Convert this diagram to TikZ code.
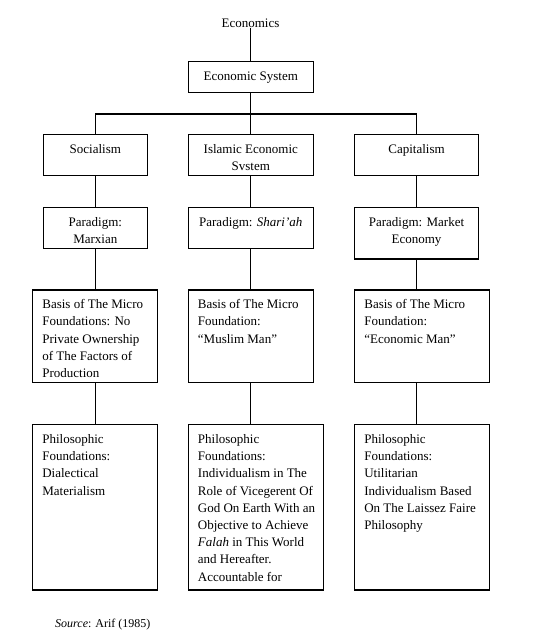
\documentclass[tikz,border=0pt]{standalone}
\usepackage{fontspec}
\setmainfont{Liberation Serif}
\begin{document}
\begin{tikzpicture}[x=1pt,y=-1pt,
  box/.style={draw, line width=1.1pt, inner sep=0pt, rectangle},
  conn/.style={line width=1.1pt},
  txt/.style={inner sep=0pt, font=\fontsize{13}{17.2}\selectfont},
  ctext/.style={txt, anchor=north, align=center},
  ltext/.style={txt, anchor=north west, align=left}]
\useasboundingbox (0,0) rectangle (539,641);
% top
\node[txt] (econ) at (250.5,23) {Economics};
\node[box, minimum width=125pt, minimum height=31pt] (sys) at (250.8,77.2) {};
\node[ctext] (syst) at ([yshift=-7pt]sys.north) {\strut Economic System};
% level 2
\node[box, minimum width=104pt, minimum height=41.4pt] (soc2) at (95.3,155) {};
\node[box, minimum width=125pt, minimum height=41.4pt] (isl2) at (250.8,155) {};
\node[box, minimum width=124.6pt, minimum height=41.4pt] (cap2) at (416.5,155) {};
\node[ctext] (soc2t) at ([yshift=-7.5pt]soc2.north) {\strut Socialism};
\node[ctext] (isl2t) at ([yshift=-7.5pt]isl2.north) {\strut Islamic Economic\\Svstem};
\node[ctext] (cap2t) at ([yshift=-7.5pt]cap2.north) {\strut Capitalism};
% level 3
\node[box, minimum width=104pt, minimum height=41pt] (soc3) at (95.3,227.8) {};
\node[box, minimum width=125pt, minimum height=41pt] (isl3) at (250.8,227.8) {};
\node[box, minimum width=124.6pt, minimum height=51.7pt] (cap3) at (416.5,233.15) {};
\node[ctext] (soc3t) at ([yshift=-7.5pt]soc3.north) {\strut Paradigm:\\Marxian};
\node[ctext] (isl3t) at ([yshift=-7.5pt]isl3.north) {\strut Paradigm: \textit{Shari’ah}};
\node[ctext] (cap3t) at ([yshift=-7.5pt]cap3.north) {\strut Paradigm: Market\\Economy};
% level 4
\node[box, minimum width=125pt, minimum height=92.7pt] (soc4) at (95.2,336.35) {};
\node[box, minimum width=125pt, minimum height=92.7pt] (isl4) at (250.8,336.35) {};
\node[box, minimum width=134.6pt, minimum height=92.7pt] (cap4) at (422,336.35) {};
\node[ltext] (soc4t) at ([xshift=10pt,yshift=-7pt]soc4.north west) {\strut Basis of The Micro\\Foundations: No\\Private Ownership\\of The Factors of\\Production};
\node[ltext] (isl4t) at ([xshift=10pt,yshift=-7pt]isl4.north west) {\strut Basis of The Micro\\Foundation:\\“Muslim Man”};
\node[ltext] (cap4t) at ([xshift=10pt,yshift=-7pt]cap4.north west) {\strut Basis of The Micro\\Foundation:\\“Economic Man”};
% level 5
\node[box, minimum width=125pt, minimum height=165.7pt] (soc5) at (95.2,507.15) {};
\node[box, minimum width=135pt, minimum height=165.7pt] (isl5) at (255.8,507.15) {};
\node[box, minimum width=134.6pt, minimum height=165.7pt] (cap5) at (422,507.15) {};
\node[ltext] (soc5t) at ([xshift=10pt,yshift=-7.5pt]soc5.north west) {\strut Philosophic\\Foundations:\\Dialectical\\Materialism};
\node[ltext] (isl5t) at ([xshift=10pt,yshift=-7.5pt]isl5.north west) {\strut Philosophic\\Foundations:\\Individualism in The\\Role of Vicegerent Of\\God On Earth With an\\Objective to Achieve\\\textit{Falah} in This World\\and Hereafter.\\Accountable for};
\node[ltext] (cap5t) at ([xshift=10pt,yshift=-7.5pt]cap5.north west) {\strut Philosophic\\Foundations:\\Utilitarian\\Individualism Based\\On The Laissez Faire\\Philosophy};
% source
\node[anchor=base west, inner sep=0pt, font=\fontsize{12}{14}\selectfont] (src) at (55,627) {\textit{Source}: Arif (1985)};
% connectors
\coordinate (bar) at (250.8,114);
\draw[conn] (econ.south -| sys.north) -- (sys.north);
\draw[conn] (sys.south) -- (bar);
\draw[conn] (soc2.north) |- (bar) -| (cap2.north);
\draw[conn] (bar) -- (isl2.north);
\draw[conn] (soc2) -- (soc3);
\draw[conn] (isl2) -- (isl3);
\draw[conn] (cap2) -- (cap3);
\draw[conn] (soc3.south) -- (soc3.south |- soc4.north);
\draw[conn] (isl3.south) -- (isl3.south |- isl4.north);
\draw[conn] (cap3.south) -- (cap3.south |- cap4.north);
\draw[conn] (soc4.south) -- (soc4.south |- soc5.north);
\draw[conn] (isl4.south) -- (isl4.south |- isl5.north);
\draw[conn] (cap3.south |- cap4.south) -- (cap3.south |- cap5.north);
\end{tikzpicture}
\end{document}
